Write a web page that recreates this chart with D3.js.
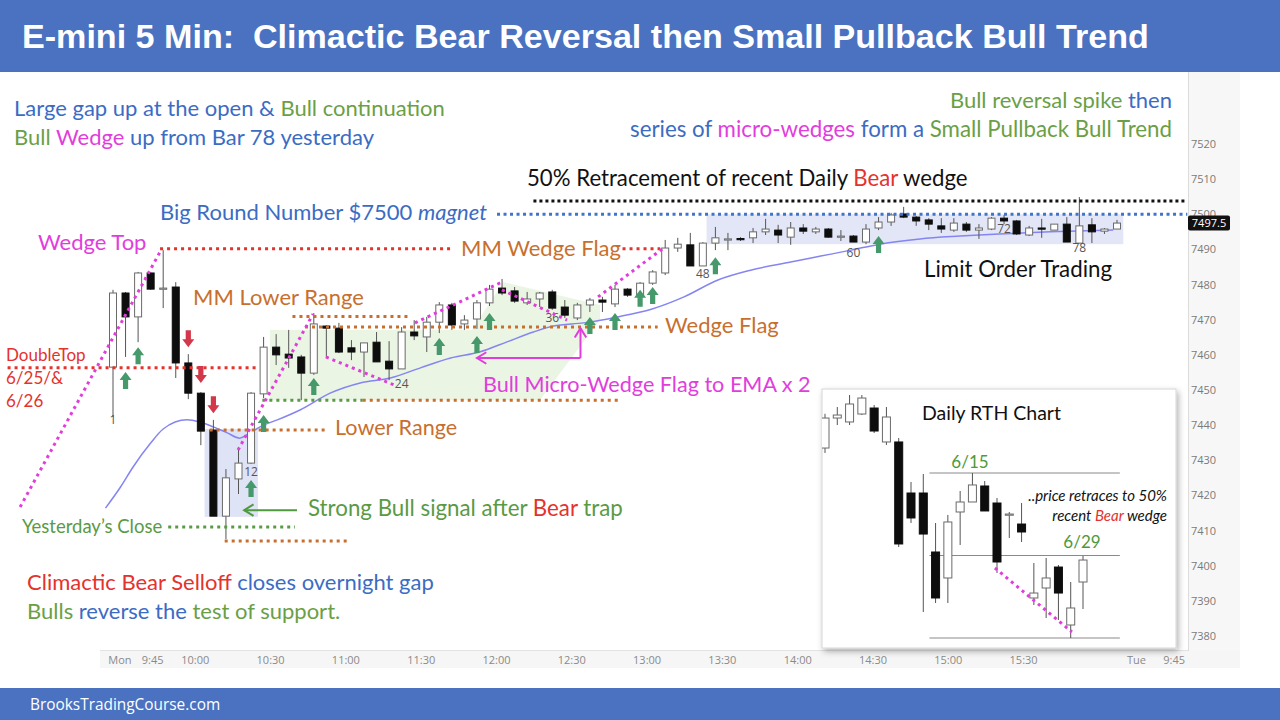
<!DOCTYPE html>
<html>
<head>
<meta charset="utf-8">
<title>E-mini 5 Min</title>
<script src="https://cdnjs.cloudflare.com/ajax/libs/d3/7.8.5/d3.min.js"></script>
<style>
  body { margin: 0; background: #fff; }
  svg { display: block; }
  text { white-space: pre; }
</style>
</head>
<body>
<svg id="chart" width="1280" height="720"></svg>
<script>
// 5 min RTH bars, bar 1 = 9:30 ... bar 81 = 16:10
let opens = [7456.5, 7477.6, 7470.8, 7483.3, 7479.0, 7479.3, 7457.7, 7449.1, 7438.6, 7414.1,
  7424.7, 7429.2, 7448.9, 7462.2, 7460.2, 7459.4, 7454.8, 7468.2, 7467.6, 7462.0,
  7460.8, 7463.6, 7458.2, 7456.0, 7466.5, 7465.1, 7469.3, 7474.2, 7468.8, 7470.2,
  7474.8, 7479.0, 7478.2, 7474.8, 7475.9, 7477.9, 7473.6, 7470.5, 7474.2, 7475.6,
  7474.5, 7478.7, 7477.0, 7480.4, 7483.3, 7490.4, 7491.3, 7485.3, 7491.8, 7493.0,
  7493.1, 7493.3, 7495.0, 7495.5, 7493.5, 7496.1, 7495.0, 7495.8, 7493.8, 7493.8,
  7492.1, 7496.1, 7497.8, 7500.1, 7499.2, 7498.4, 7496.7, 7495.5, 7497.2, 7495.5,
  7495.8, 7498.9, 7498.1, 7494.1, 7496.1, 7495.5, 7497.2, 7491.8, 7497.0, 7495.2, 7495.8];
let highs = [7478.5, 7477.9, 7483.6, 7483.5, 7489.8, 7480.7, 7460.2, 7449.4, 7441.5, 7427.5,
  7433.8, 7449.4, 7465.1, 7465.9, 7467.1, 7460.0, 7471.9, 7468.5, 7469.1, 7464.2,
  7463.4, 7466.5, 7463.9, 7467.9, 7469.9, 7470.8, 7475.0, 7474.8, 7471.3, 7475.6,
  7479.9, 7481.6, 7479.3, 7477.9, 7477.9, 7478.5, 7475.6, 7474.8, 7476.2, 7476.5,
  7479.9, 7479.0, 7480.7, 7484.1, 7492.7, 7493.3, 7494.7, 7492.1, 7496.4, 7494.7,
  7493.5, 7496.1, 7498.7, 7497.0, 7497.8, 7497.2, 7496.4, 7496.1, 7495.5, 7494.1,
  7497.2, 7499.2, 7500.4, 7502.1, 7499.5, 7498.9, 7498.9, 7498.9, 7497.8, 7497.2,
  7499.2, 7499.8, 7498.4, 7496.7, 7498.7, 7497.2, 7499.2, 7504.9, 7498.9, 7496.1, 7498.4];
let lows = [7442.3, 7459.4, 7463.6, 7478.5, 7473.3, 7453.4, 7447.4, 7434.3, 7414.1, 7407.6,
  7420.4, 7429.0, 7447.7, 7457.1, 7456.3, 7447.1, 7454.3, 7459.1, 7460.5, 7458.5,
  7453.7, 7458.0, 7452.8, 7456.0, 7464.2, 7460.8, 7466.2, 7467.1, 7467.1, 7467.4,
  7473.9, 7477.0, 7474.8, 7474.2, 7473.6, 7472.8, 7470.5, 7469.9, 7472.2, 7472.2,
  7473.6, 7476.5, 7476.5, 7479.9, 7482.7, 7489.3, 7485.3, 7485.3, 7489.8, 7489.8,
  7492.4, 7491.8, 7494.1, 7491.8, 7491.3, 7494.4, 7494.4, 7493.3, 7492.4, 7492.1,
  7491.5, 7495.5, 7496.7, 7498.9, 7496.7, 7495.5, 7494.7, 7495.0, 7495.0, 7493.0,
  7495.5, 7497.2, 7494.1, 7493.8, 7493.3, 7495.5, 7492.1, 7491.8, 7491.8, 7494.4, 7495.8];
let closes = [7477.6, 7470.8, 7483.3, 7478.7, 7479.0, 7457.7, 7449.1, 7438.3, 7414.1, 7425.0,
  7429.2, 7449.1, 7462.2, 7460.0, 7459.1, 7454.8, 7468.8, 7467.6, 7460.8, 7460.8,
  7463.4, 7458.0, 7456.0, 7466.5, 7465.4, 7469.3, 7474.2, 7468.5, 7469.9, 7474.8,
  7478.7, 7477.6, 7475.3, 7475.9, 7477.6, 7473.3, 7471.3, 7474.2, 7475.6, 7475.0,
  7478.7, 7477.0, 7480.4, 7483.6, 7490.4, 7491.5, 7485.3, 7491.8, 7493.3, 7493.0,
  7492.9, 7495.0, 7495.8, 7494.1, 7496.1, 7495.2, 7495.8, 7493.5, 7493.8, 7492.1,
  7495.8, 7497.8, 7499.8, 7499.2, 7498.1, 7497.2, 7495.8, 7497.5, 7495.5, 7496.1,
  7498.9, 7498.1, 7494.4, 7496.1, 7495.8, 7497.2, 7492.1, 7496.7, 7495.0, 7495.8, 7497.5];

// 20 bar EMA
let emaBars = [0.4, 1.6, 2.6, 4.0, 5.0, 6.9, 7.9, 9.0, 10.1, 11.1, 11.9, 13.0, 14.1, 15.9, 18.3,
  20.7, 23.1, 25.5, 27.9, 30.2, 32.4, 34.5, 36.1, 38.5, 41.2, 43.9, 46.5, 49.2, 51.8,
  55.0, 57.4, 59.8, 62.1, 65.3, 68.5, 71.6, 75.7, 80.7];
let emaVals = [7416.4, 7422.4, 7428.1, 7434.9, 7438.9, 7441.5, 7440.9, 7439.5, 7437.8, 7436.3, 7437.8,
  7440.0, 7441.5, 7444.3, 7449.1, 7452.0, 7453.4, 7456.3, 7459.1, 7460.8, 7463.7, 7466.5,
  7468.2, 7469.1, 7470.8, 7473.0, 7476.5, 7481.3, 7484.1, 7486.4, 7488.1, 7489.8, 7491.5,
  7493.0, 7493.8, 7494.4, 7495.0, 7495.5];

let priceTicks = [7380, 7390, 7400, 7410, 7420, 7430, 7440, 7450, 7460, 7470, 7480, 7490, 7500, 7510, 7520];
let timeLabels = ["Mon", "9:45", "10:00", "10:30", "11:00", "11:30", "12:00", "12:30", "13:00",
  "13:30", "14:00", "14:30", "15:00", "15:30", "Tue", "9:45"];
let timeBars = [1, 3.6, 7, 13, 19, 25, 31, 37, 43, 49, 55, 61, 67, 73, 82, 85];

let upArrowBars = [2, 3, 12, 13, 17, 27, 30, 31, 39, 41, 43, 44, 49, 62];
let upArrowTips = [7455.1, 7462.2, 7424.4, 7442.9, 7453.4, 7464.8, 7465.4, 7471.9, 7470.8, 7471.9,
  7478.5, 7479.3, 7487.8, 7493.8];
let downArrowBars = [7, 8, 9];
let downArrowTips = [7462.2, 7452.0, 7443.4];

let barNumbers = [1, 12, 24, 36, 48, 60, 72, 78];
let barNumberPrices = [7440.3, 7425.5, 7450.6, 7469.3, 7481.9, 7487.8, 7494.7, 7489.2];

// daily RTH inset
let dOpen = [7661.7, 7705.8, 7700.0, 7711.7, 7720.5, 7670.6, 7670.6, 7595.6, 7595.6, 7508.9, 7470.7,
  7567.7, 7582.4, 7605.9, 7580.9, 7564.7, 7550.0, 7441.3, 7456.0, 7486.8, 7401.6, 7464.8];
let dHigh = [7712.0, 7722.0, 7739.6, 7739.6, 7724.9, 7722.0, 7676.4, 7611.8, 7623.5, 7551.5, 7563.3,
  7598.5, 7625.0, 7613.2, 7588.3, 7567.7, 7580.9, 7492.7, 7500.1, 7489.8, 7464.8, 7503.0];
let dLow = [7654.4, 7695.5, 7695.5, 7710.2, 7683.8, 7666.2, 7516.2, 7551.5, 7420.7, 7433.9, 7433.9,
  7519.2, 7582.4, 7569.2, 7478.0, 7529.5, 7523.6, 7431.0, 7411.9, 7409.0, 7382.5, 7425.1];
let dClose = [7705.8, 7710.2, 7726.4, 7735.2, 7686.7, 7707.3, 7520.7, 7558.9, 7535.3, 7441.3, 7553.0,
  7582.4, 7607.4, 7569.2, 7494.2, 7564.7, 7538.3, 7448.6, 7470.7, 7448.6, 7426.6, 7497.1];
let dLevels = [7625, 7503.75, 7382.5];

const BLUE = "#3b6cc4", GREEN = "#6b9f45", MAG = "#e23ddc", RED = "#e4322c",
      ORANGE = "#c86f2e", DGREEN = "#5a9a44";
const FONT = "Lato, 'Open Sans', sans-serif";

let svg = d3.select("#chart");
let defs = svg.append("defs");
let sh = defs.append("filter").attr("id", "shadow").attr("x", "-10%").attr("y", "-10%")
  .attr("width", "125%").attr("height", "125%");
sh.append("feDropShadow").attr("dx", 2).attr("dy", 3).attr("stdDeviation", 3)
  .attr("flood-color", "#000").attr("flood-opacity", 0.3);
defs.append("clipPath").attr("id", "insetClip").append("rect")
  .attr("x", 822).attr("y", 389).attr("width", 354).attr("height", 259);

let x = d3.scaleLinear().domain([1, 81]).range([113, 1117]);
let y = d3.scaleLinear().domain([7380, 7520]).range([636, 144]);

// panels
svg.append("rect").attr("x", 1188).attr("y", 72).attr("width", 52).attr("height", 596).attr("fill", "#f7f7f7");
svg.append("line").attr("x1", 1188.5).attr("x2", 1188.5).attr("y1", 72).attr("y2", 668).attr("stroke", "#dcdcdc");
svg.append("rect").attr("x", 100).attr("y", 651).attr("width", 1140).attr("height", 17).attr("fill", "#f6f6f6");
svg.append("line").attr("x1", 100).attr("x2", 1188).attr("y1", 650.5).attr("y2", 650.5).attr("stroke", "#e2e2e2");

// price axis
let yAxis = d3.axisRight(y).tickValues(priceTicks).tickSize(0).tickPadding(3).tickFormat(d3.format("d"));
let ya = svg.append("g").attr("transform", "translate(1188,0)").call(yAxis);
ya.select(".domain").remove();
ya.selectAll("text").attr("fill", "#7a7a7a").attr("font-size", 11).attr("font-family", "'Open Sans', sans-serif");

// time axis
svg.append("g").selectAll("text").data(timeLabels).enter().append("text")
  .attr("x", (d, i) => x(timeBars[i]) + 7).attr("y", 664)
  .attr("text-anchor", "middle").attr("font-size", 11)
  .attr("font-family", "'Liberation Sans Narrow', 'Open Sans', sans-serif")
  .attr("fill", "#8a8a8a").text(d => d);

let plot = svg.append("g");

// shaded zones
let shade = plot.append("g");
function zone(b1, b2, p1, p2, col) {
  shade.append("rect").attr("x", x(b1)).attr("width", x(b2) - x(b1))
    .attr("y", y(p1)).attr("height", y(p2) - y(p1)).attr("fill", col);
}
zone(48.3, 81.5, 7500, 7491.5, "#e2e6f7");
zone(8.3, 12.55, 7438.9, 7413.9, "#dfe3f6");
zone(13.5, 29.6, 7467.1, 7447.1, "#eaf5e4");
let greenPoly = [[29.6, 7447.1], [29.6, 7467.1], [32.1, 7480.7], [39.8, 7474.2], [39.8, 7469.9], [35.0, 7447.1]];
shade.append("path").attr("d", d3.line().x(d => x(d[0])).y(d => y(d[1]))(greenPoly) + "Z").attr("fill", "#eaf5e4");

// EMA
plot.append("path")
  .attr("d", d3.line().x((d, i) => x(emaBars[i])).y(d => y(d)).curve(d3.curveMonotoneX)(emaVals))
  .attr("fill", "none").attr("stroke", "#8585f2").attr("stroke-width", 1.5);

// candles
let bars = d3.range(opens.length).map(i => ({ n: i + 1, o: opens[i], h: highs[i], l: lows[i], c: closes[i] }));
let cg = plot.append("g").selectAll("g").data(bars).enter().append("g");
cg.append("line")
  .attr("x1", d => x(d.n)).attr("x2", d => x(d.n))
  .attr("y1", d => y(d.h)).attr("y2", d => y(d.l))
  .attr("stroke", "#555").attr("stroke-width", 1);
cg.append("rect")
  .attr("x", d => x(d.n) - 3.5).attr("width", 7)
  .attr("y", d => y(Math.max(d.o, d.c)))
  .attr("height", d => Math.max(1.2, Math.abs(y(d.o) - y(d.c))))
  .attr("fill", d => d.c < d.o ? "#0d0d0d" : "#fff")
  .attr("stroke", d => d.c < d.o ? "#0d0d0d" : "#6a6a6a").attr("stroke-width", 1);

// bar numbers
plot.append("g").selectAll("text").data(barNumbers).enter().append("text")
  .attr("x", d => x(d)).attr("y", (d, i) => y(barNumberPrices[i]))
  .attr("text-anchor", "middle").attr("font-size", 12).attr("font-family", "'Open Sans', sans-serif")
  .attr("fill", "#555").text(d => d);

// dotted guide lines
let guides = plot.append("g");
function dotted(b1, p1, b2, p2, col, w, dash) {
  guides.append("line").attr("x1", x(b1)).attr("y1", y(p1)).attr("x2", x(b2)).attr("y2", y(p2))
    .attr("stroke", col).attr("stroke-width", w || 3).attr("stroke-dasharray", dash || "3,4");
}
dotted(34.5, 7503.75, 86.6, 7503.75, "#111", 3, "3,3");
dotted(31.6, 7500, 86.6, 7500, "#3d74cc", 3, "3,3.5");
dotted(4.75, 7490.2, 27.9, 7490.2, RED);
dotted(41.6, 7490.2, 44.6, 7490.2, RED);
dotted(15.3, 7470.9, 24.7, 7470.9, ORANGE);
dotted(16.3, 7467.9, 44.4, 7467.9, ORANGE);
dotted(-7.4, 7456.3, 12.55, 7456.3, RED);
dotted(12.9, 7447.1, 20.9, 7447.1, DGREEN);
dotted(20.9, 7447.1, 41.4, 7447.1, ORANGE);
dotted(8.7, 7438.6, 17.9, 7438.6, ORANGE);
dotted(5.4, 7411.0, 15.5, 7411.0, DGREEN);
dotted(9.9, 7407.0, 19.65, 7407.0, ORANGE);
// wedge lines
dotted(-6.4, 7416.7, 4.75, 7489.3, MAG);
dotted(10.96, 7432.9, 16.94, 7471.6, MAG);
dotted(17.97, 7459.4, 23.63, 7451.1, MAG);
dotted(25.06, 7469.1, 31.99, 7480.7, MAG);
dotted(31.99, 7478.5, 37.18, 7469.9, MAG);
dotted(39.65, 7476.5, 44.98, 7490.7, MAG);

// signal arrows
function blockArrow(g, cx, ty, up, col) {
  let s = up ? 1 : -1;
  let pts = [[0, 0], [6, 8], [2.6, 8], [2.6, 17], [-2.6, 17], [-2.6, 8], [-6, 8]]
    .map(p => [cx + p[0], ty + s * p[1]]);
  g.append("path").attr("d", "M" + pts.join("L") + "Z").attr("fill", col);
}
let arrows = plot.append("g");
upArrowBars.forEach((b, i) => blockArrow(arrows, x(b), y(upArrowTips[i]), true, "#46996a"));
downArrowBars.forEach((b, i) => blockArrow(arrows, x(b), y(downArrowTips[i]), false, "#d2384a"));

function lineArrow(b1, p1, b2, p2, col) {
  let x1 = x(b1), y1 = y(p1), x2 = x(b2), y2 = y(p2);
  let a = Math.atan2(y2 - y1, x2 - x1), L = 11, W = 0.55;
  arrows.append("line").attr("x1", x1).attr("y1", y1).attr("x2", x2).attr("y2", y2)
    .attr("stroke", col).attr("stroke-width", 2);
  arrows.append("polyline").attr("fill", "none").attr("stroke", col).attr("stroke-width", 2)
    .attr("points", [[x2 - L * Math.cos(a - W), y2 - L * Math.sin(a - W)], [x2, y2],
      [x2 - L * Math.cos(a + W), y2 - L * Math.sin(a + W)]].join(" "));
}
lineArrow(15.66, 7415.8, 11.45, 7415.8, "#4f9a3e");
lineArrow(38.25, 7459.1, 30.0, 7459.1, MAG);
lineArrow(38.25, 7459.1, 38.25, 7467.6, MAG);

// last price tag
svg.append("rect").attr("x", 1188).attr("y", y(7497.5) - 7.5).attr("width", 42).attr("height", 15)
  .attr("rx", 2).attr("fill", "#111");
svg.append("text").attr("x", 1209).attr("y", y(7497.5) + 4).attr("text-anchor", "middle")
  .attr("font-size", 11).attr("font-family", "'Open Sans', sans-serif").attr("fill", "#fff").text("7497.5");

// annotation text
let notes = svg.append("g").attr("font-family", FONT);
function rich(xp, yp, parts, size, anchor, g) {
  let t = (g || notes).append("text").attr("x", xp).attr("y", yp).attr("font-size", size)
    .attr("text-anchor", anchor || "start");
  parts.forEach(p => t.append("tspan").text(p[0]).attr("fill", p[1]).attr("font-style", p[2] || null));
  return t;
}
rich(14, 116, [["Large gap up at the open & ", BLUE], ["Bull continuation", GREEN]], 22);
rich(14, 145, [["Bull ", GREEN], ["Wedge ", MAG], ["up from Bar 78 yesterday", BLUE]], 22);
rich(1172, 108, [["Bull reversal spike ", GREEN], ["then", BLUE]], 22, "end");
rich(1172, 137, [["series of ", BLUE], ["micro-wedges ", MAG], ["form a ", BLUE], ["Small Pullback Bull Trend", GREEN]], 22.3, "end");
rich(527, 186, [["50% Retracement of recent Daily ", "#111"], ["Bear", RED], [" wedge", "#111"]], 22.2);
rich(160, 220, [["Big Round Number $7500 ", BLUE], ["magnet", BLUE, "italic"]], 22);
rich(38, 250, [["Wedge Top", MAG]], 22);
rich(461, 256, [["MM Wedge Flag", ORANGE]], 22);
rich(193, 305, [["MM Lower Range", ORANGE]], 22);
rich(665, 333, [["Wedge Flag", ORANGE]], 22);
rich(6, 361, [["DoubleTop", RED]], 17);
rich(6, 384, [["6/25/&", RED]], 17);
rich(6, 407, [["6/26", RED]], 17);
rich(483, 392, [["Bull Micro-Wedge Flag to EMA x 2", MAG]], 21.6);
rich(335, 435, [["Lower Range", ORANGE]], 21.6);
rich(308, 516, [["Strong Bull signal after ", DGREEN], ["Bear", RED], [" trap", DGREEN]], 22.3);
rich(22, 533, [["Yesterday\u2019s Close", DGREEN]], 18.5);
rich(27, 590, [["Climactic Bear Selloff ", RED], ["closes overnight gap", BLUE]], 22);
rich(27, 619, [["Bulls ", GREEN], ["reverse the ", BLUE], ["test of support.", GREEN]], 22);
rich(924, 277, [["Limit Order Trading", "#111"]], 22.3);

// daily RTH inset
let inset = svg.append("g");
inset.append("rect").attr("x", 822).attr("y", 389).attr("width", 354).attr("height", 259)
  .attr("fill", "#fff").attr("stroke", "#d6d6d6").attr("filter", "url(#shadow)");
let ix = d3.scaleLinear().domain([1, 22]).range([825, 1083]);
let iy = d3.scaleLinear().domain([7382.5, 7625]).range([638, 473]);
let ig = inset.append("g").attr("clip-path", "url(#insetClip)");
ig.selectAll("line.lvl").data(dLevels).enter().append("line")
  .attr("x1", ix(9.5)).attr("x2", ix(25)).attr("y1", d => iy(d)).attr("y2", d => iy(d))
  .attr("stroke", "#8a8a8a").attr("stroke-width", 1);
let days = d3.range(dOpen.length).map(i => ({ n: i + 1, o: dOpen[i], h: dHigh[i], l: dLow[i], c: dClose[i] }));
let dg = ig.selectAll("g.day").data(days).enter().append("g");
dg.append("line").attr("x1", d => ix(d.n)).attr("x2", d => ix(d.n))
  .attr("y1", d => iy(d.h)).attr("y2", d => iy(d.l)).attr("stroke", "#555");
dg.append("rect").attr("x", d => ix(d.n) - 4).attr("width", 8)
  .attr("y", d => iy(Math.max(d.o, d.c)))
  .attr("height", d => Math.max(1.2, Math.abs(iy(d.o) - iy(d.c))))
  .attr("fill", d => d.c < d.o ? "#0d0d0d" : "#fff")
  .attr("stroke", d => d.c < d.o ? "#0d0d0d" : "#6a6a6a");
ig.append("line").attr("x1", ix(14.83)).attr("y1", iy(7485.4)).attr("x2", ix(21.1)).attr("y2", iy(7391.3))
  .attr("stroke", MAG).attr("stroke-width", 3).attr("stroke-dasharray", "3,4");
let inotes = inset.append("g").attr("font-family", FONT);
rich(922, 420, [["Daily RTH Chart", "#111"]], 19.5, "start", inotes);
rich(970, 468, [["6/15", "#4e9a3a"]], 17, "middle", inotes);
rich(1082, 548, [["6/29", "#4e9a3a"]], 17, "middle", inotes);
rich(1167, 501, [["..price retraces to 50%", "#111", "italic"]], 15, "end", inotes);
rich(1167, 521, [["recent ", "#111", "italic"], ["Bear", RED, "italic"], [" wedge", "#111", "italic"]], 15, "end", inotes);

// title and footer bars
svg.append("rect").attr("x", 0).attr("y", 0).attr("width", 1280).attr("height", 72).attr("fill", "#4a72c1");
svg.append("text").attr("x", 22).attr("y", 48).attr("fill", "#fff").attr("font-weight", "bold")
  .attr("font-size", 34.1).attr("font-family", "'Liberation Sans', Arial, sans-serif")
  .text("E-mini 5 Min:  Climactic Bear Reversal then Small Pullback Bull Trend");
svg.append("rect").attr("x", 0).attr("y", 688).attr("width", 1280).attr("height", 32).attr("fill", "#4a72c1");
svg.append("text").attr("x", 30).attr("y", 710).attr("fill", "#fff").attr("font-size", 15.4)
  .attr("font-family", "'Open Sans', sans-serif").text("BrooksTradingCourse.com");
</script>
</body>
</html>
